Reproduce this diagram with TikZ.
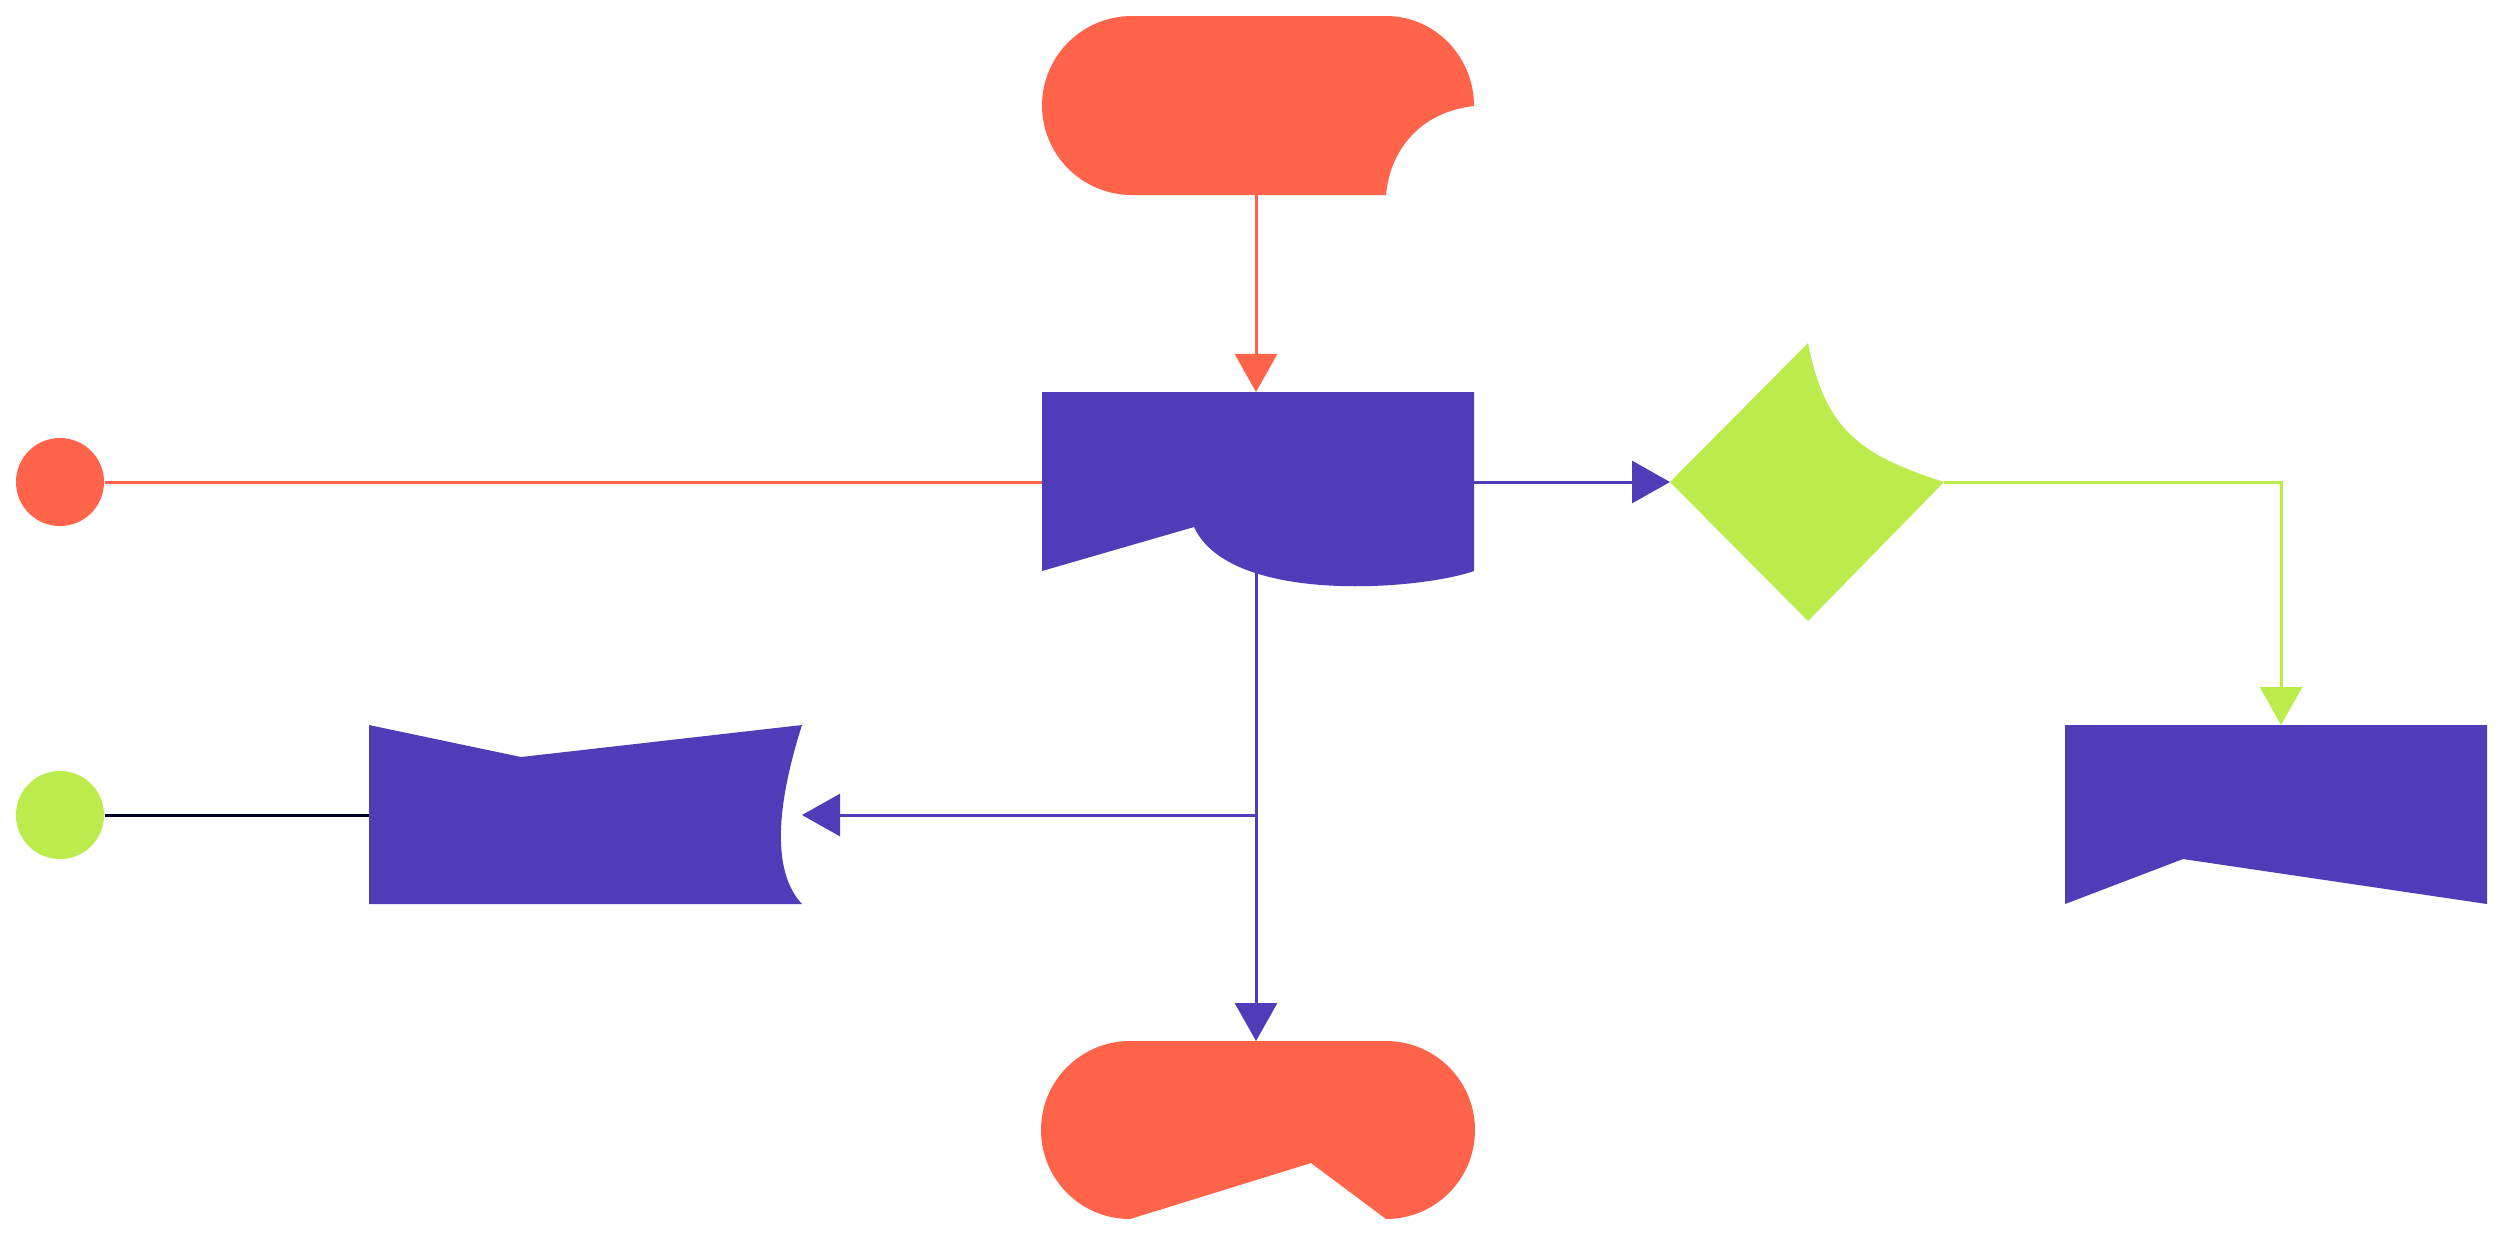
\documentclass[tikz,border=0pt]{standalone}
\usetikzlibrary{arrows.meta}
\definecolor{cred}{HTML}{FF6349}
\definecolor{cblue}{HTML}{503CB9}
\definecolor{cgreen}{HTML}{BBEC4B}
\begin{document}
\begin{tikzpicture}[x=0.01cm,y=-0.01cm,
  conn/.style={line width=0.85pt,-{Triangle[width=0.42cm,length=0.38cm]}},
  plain/.style={line width=0.85pt}]
\useasboundingbox (0,0) rectangle (2501,1250);
% coordinates
\coordinate (topb) at (1256,195);
\coordinate (midt) at (1256,392);
\coordinate (midl) at (1042,482);
\coordinate (midr) at (1474,482);
\coordinate (midb) at (1256,571);
\coordinate (dial) at (1670,482);
\coordinate (diar) at (1944,482);
\coordinate (rbt) at (2281,725);
\coordinate (lbr) at (802,815);
\coordinate (lbl) at (369,815);
\coordinate (botT) at (1256,1041);
\coordinate (branch) at (1256,815);
% top red
\fill[cred] (1132,16) -- (1386,16) arc[start angle=90,end angle=0,x radius=88,y radius=-90]
  .. controls (1420,112) and (1390,150) .. (1386,195) -- (1132,195)
  arc[start angle=270,end angle=90,x radius=90,y radius=-89.5] -- cycle;
% mid blue
\fill[cblue] (1042,392) -- (1474,392) -- (1474,571)
  .. controls (1420,590) and (1230,605) .. (1194,527) -- (1042,571) -- cycle;
% diamond
\fill[cgreen] (1670,482) -- (1808,343) .. controls (1825,430) and (1860,455) .. (1944,482)
  -- (1808,621) -- cycle;
% left blue
\fill[cblue] (369,725) -- (521,757) -- (802,725) .. controls (778,800) and (770,870) .. (802,904)
  -- (369,904) -- cycle;
% right blue
\fill[cblue] (2065,725) -- (2487,725) -- (2487,904) -- (2183,859) -- (2065,904) -- cycle;
% bottom red
\fill[cred] (1130,1041) -- (1386,1041) arc[start angle=90,end angle=-90,x radius=89,y radius=-89]
  -- (1311,1163) -- (1130,1219)
  arc[start angle=270,end angle=90,x radius=89,y radius=-89] -- cycle;
% circles
\node[circle,fill=cred,minimum size=0.88cm,inner sep=0] (c1) at (60,482) {};
\node[circle,fill=cgreen,minimum size=0.88cm,inner sep=0] (c2) at (60,815) {};
% connectors
\draw[conn,cred] (topb) -- (midt);
\draw[plain,cred] (c1) -- (midl);
\draw[conn,cblue] (midr) -- (dial);
\draw[conn,cgreen] (diar) -| (rbt);
\draw[plain,black!85!blue] (c2) -- (lbl);
\draw[conn,cblue] (midb) -- (botT);
\draw[conn,cblue] (branch) -- (lbr);
\end{tikzpicture}
\end{document}
